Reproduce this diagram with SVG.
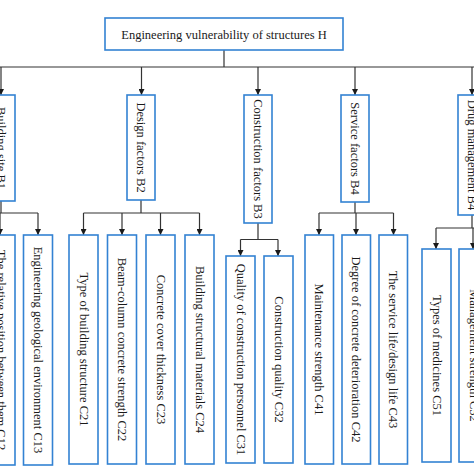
<svg xmlns="http://www.w3.org/2000/svg" width="474" height="474" viewBox="0 0 474 474">
<defs>
<marker id="ah" viewBox="0 0 8 8" refX="8" refY="4" markerWidth="7" markerHeight="6" orient="auto" markerUnits="userSpaceOnUse">
<path d="M0,0 L8,4 L0,8 Z" fill="#1a1a1a"/>
</marker>
<style>
.box{fill:#fff;stroke:#3382d3;stroke-width:1.6}
.ln{fill:none;stroke:#333;stroke-width:1.2}
.ar{fill:none;stroke:#333;stroke-width:1.2;marker-end:url(#ah)}
.t{font-family:"Liberation Serif","Times New Roman",serif;font-size:12.5px;fill:#1a1a1a;text-anchor:middle;dominant-baseline:central}
</style>
</defs>
<rect width="474" height="474" fill="#fff"/>
<g id="connectors">
<path class="ln" d="M224,50 V67 M-20,67 H494"/>
<path class="ar" d="M1,67 V95"/>
<path class="ar" d="M141.5,67 V95"/>
<path class="ar" d="M258,67 V95"/>
<path class="ar" d="M355,67 V95"/>
<path class="ar" d="M472,67 V95"/>
<path class="ln" d="M1,201 V213 M-20,213 H38"/>
<path class="ar" d="M0,213 V235"/>
<path class="ar" d="M38,213 V235"/>
<path class="ln" d="M141,200 V213 M83.5,213 H199.5"/>
<path class="ar" d="M83.5,213 V235"/>
<path class="ar" d="M122,213 V235"/>
<path class="ar" d="M160.5,213 V235"/>
<path class="ar" d="M199.5,213 V235"/>
<path class="ln" d="M258,223 V239.5 M240.5,239.5 H278"/>
<path class="ar" d="M240.5,239.5 V256"/>
<path class="ar" d="M278,239.5 V256"/>
<path class="ln" d="M355,202 V213 M319,213 H393.5"/>
<path class="ar" d="M319,213 V235"/>
<path class="ar" d="M356,213 V235"/>
<path class="ar" d="M393.5,213 V235"/>
<path class="ln" d="M472,215 V228 M436,228 H494"/>
<path class="ar" d="M436,228 V249"/>
<path class="ar" d="M473,228 V249"/>
</g>
<g id="H"><rect class="box" x="105" y="18" width="238" height="32"/><text class="t" x="224" y="34.5">Engineering vulnerability of structures H</text></g>
<g id="B1"><rect class="box" x="-13" y="95" width="28" height="106"/><text class="t" transform="translate(1,148) rotate(90)">Building site B1</text></g>
<g id="B2"><rect class="box" x="127" y="95" width="28" height="105"/><text class="t" transform="translate(141,147.5) rotate(90)">Design factors B2</text></g>
<g id="B3"><rect class="box" x="244" y="95" width="28" height="128"/><text class="t" transform="translate(258,159) rotate(90)">Construction factors B3</text></g>
<g id="B4"><rect class="box" x="341" y="95" width="28" height="107"/><text class="t" transform="translate(355,148.5) rotate(90)">Service factors B4</text></g>
<g id="B5"><rect class="box" x="458" y="95" width="28" height="120"/><text class="t" transform="translate(472,155) rotate(90)">Drug management B4</text></g>
<g id="C12"><rect class="box" x="-14" y="235" width="29" height="230"/><text class="t" transform="translate(0.5,350) rotate(90)">The relative position between them C12</text></g>
<g id="C13"><rect class="box" x="23.5" y="235" width="29" height="230"/><text class="t" transform="translate(38,350) rotate(90)">Engineering geological environment C13</text></g>
<g id="C21"><rect class="box" x="69" y="235" width="29" height="229"/><text class="t" transform="translate(83.5,349.5) rotate(90)">Type of building structure C21</text></g>
<g id="C22"><rect class="box" x="107.5" y="235" width="29" height="229"/><text class="t" transform="translate(122,349.5) rotate(90)">Beam-column concrete strength C22</text></g>
<g id="C23"><rect class="box" x="146" y="235" width="29" height="229"/><text class="t" transform="translate(160.5,349.5) rotate(90)">Concrete cover thickness C23</text></g>
<g id="C24"><rect class="box" x="185" y="235" width="29" height="229"/><text class="t" transform="translate(199.5,349.5) rotate(90)">Building structural materials C24</text></g>
<g id="C31"><rect class="box" x="226" y="256" width="29" height="207"/><text class="t" transform="translate(240.5,359.5) rotate(90)">Quality of construction personnel C31</text></g>
<g id="C32"><rect class="box" x="264" y="256" width="29" height="207"/><text class="t" transform="translate(278.5,359.5) rotate(90)">Construction quality C32</text></g>
<g id="C41"><rect class="box" x="305" y="235" width="28.5" height="229"/><text class="t" transform="translate(319.25,349.5) rotate(90)">Maintenance strength C41</text></g>
<g id="C42"><rect class="box" x="342" y="235" width="28.5" height="229"/><text class="t" transform="translate(356.25,349.5) rotate(90)">Degree of concrete deterioration C42</text></g>
<g id="C43"><rect class="box" x="379" y="235" width="28.5" height="229"/><text class="t" transform="translate(393.25,349.5) rotate(90)">The service life/design life C43</text></g>
<g id="C51"><rect class="box" x="422" y="249" width="29" height="213"/><text class="t" transform="translate(436.5,355.5) rotate(90)">Types of medicines C51</text></g>
<g id="C52"><rect class="box" x="459" y="249" width="29" height="213"/><text class="t" transform="translate(473.5,355.5) rotate(90)">Management strength C52</text></g>
</svg>
